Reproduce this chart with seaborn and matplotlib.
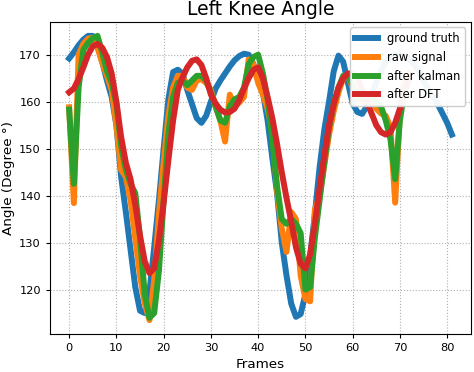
import matplotlib
matplotlib.use("Agg")
import matplotlib.pyplot as plt
import numpy as np
import pandas as pd
import seaborn as sns

# knee angle per frame
ground_truth = [
    169.2, 170.5, 172.0, 173.2, 174.0, 174.0, 172.0, 168.5, 164.5, 161.0,
    155.0, 144.0, 136.5, 128.5, 120.5, 115.5, 115.0, 119.5, 129.0, 139.0,
    150.0, 160.5, 166.3, 166.8, 166.0, 162.5, 159.5, 156.5, 155.5, 157.0,
    160.0, 162.8, 164.5, 166.0, 167.5, 168.8, 169.7, 170.2, 170.0, 168.0,
    164.5, 162.0, 156.0, 148.0, 140.5, 130.0, 123.0, 117.0, 114.2, 114.8,
    119.0, 127.0, 136.0, 146.0, 154.0, 160.0, 166.5, 169.8, 168.5, 164.0,
    159.6, 157.8, 157.4, 159.0, 161.5, 164.0, 166.5, 168.5, 169.5, 170.0,
    170.0, 169.5, 169.0, 168.0, 166.5, 164.5, 162.5, 161.0, 159.5, 157.5,
    155.5, 153.0,
]
raw_signal = [
    158.8, 138.4, 170.0, 172.3, 173.4, 173.6, 171.5, 168.3, 165.5, 162.5,
    155.0, 145.5, 144.0, 139.0, 131.0, 123.0, 117.0, 113.5, 122.0, 136.0,
    147.0, 157.0, 163.0, 165.5, 165.5, 163.0, 162.5, 164.5, 164.8, 164.0,
    162.5, 159.0, 156.0, 151.5, 161.5, 159.0, 159.8, 161.0, 169.0, 168.0,
    164.0, 161.5, 158.5, 154.0, 141.0, 133.0, 128.0, 136.5, 135.0, 123.0,
    118.0, 117.5, 137.0, 140.0, 146.5, 153.0, 158.0, 162.0, 165.0, 165.5,
    163.0, 160.5, 160.0, 161.0, 160.5, 158.5, 157.5, 157.0, 154.5, 138.5,
    158.0, 164.0, 166.0,
]
after_kalman = [
    158.3, 142.5, 163.0, 171.0, 172.5, 173.5, 174.0, 170.5, 166.5, 164.0,
    159.5, 150.5, 145.5, 142.5, 140.5, 131.0, 119.0, 114.0, 115.0, 124.0,
    139.0, 153.0, 161.0, 164.0, 164.5, 163.5, 164.5, 165.5, 165.5, 164.5,
    162.0, 159.0, 156.0, 155.5, 159.0, 160.5, 161.0, 163.0, 168.0, 169.5,
    170.0, 166.0, 160.5, 152.0, 142.0, 135.0, 134.0, 135.0, 134.0, 132.0,
    120.0, 120.5, 131.0, 139.0, 147.0, 154.5, 159.5, 163.0, 165.5, 165.5,
    163.5, 161.5, 161.0, 161.0, 161.0, 160.0, 159.0, 156.0, 152.0, 143.5,
    156.0, 162.5, 165.0,
]
after_dft = [
    162.0, 162.8, 164.8, 167.3, 170.0, 171.8, 172.3, 171.5, 169.5, 166.0,
    160.0, 152.5, 147.0, 143.5, 138.0, 131.5, 126.0, 123.5, 124.5, 130.5,
    138.5, 147.5, 156.0, 162.5, 165.2, 167.3, 168.7, 169.0, 167.8, 165.0,
    161.5, 159.6, 158.3, 157.7, 157.8, 158.5, 160.3, 162.8, 165.0, 166.8,
    167.3, 165.0, 161.0, 156.5, 151.0, 145.0, 139.5, 134.5, 129.0, 125.5,
    124.5, 127.5, 134.0, 141.5, 148.5, 155.0, 159.5, 163.0, 165.0, 166.0,
    166.0, 165.0, 162.5, 160.0, 157.5, 155.0, 153.5, 153.0, 153.5, 155.5,
    158.5, 162.0, 165.0,
]

series_names = ["ground truth", "raw signal", "after kalman", "after DFT"]
series_colors = ["#1f77b4", "#ff7f0e", "#2ca02c", "#d62728"]


def build_long_df():
    """Stacks the four series into one long table for seaborn."""
    parts = []
    for name, values in zip(series_names, [ground_truth, raw_signal, after_kalman, after_dft]):
        parts.append(pd.DataFrame({"Frames": np.arange(len(values)), "Angle": values, "series": name}))
    return pd.concat(parts, ignore_index=True)


df = build_long_df()

fig, ax = plt.subplots(figsize=(4.74, 3.72), dpi=100)
fig.subplots_adjust(left=0.1055, right=0.9937, bottom=0.1013, top=0.9417)

for name, color in zip(series_names, series_colors):
    sns.lineplot(data=df[df["series"] == name], x="Frames", y="Angle",
                 color=color, linewidth=4.3, label=name, ax=ax)

ax.grid(True, linestyle=":", color="#b0b0b0", linewidth=0.8)
ax.set_title("Left Knee Angle", fontsize=13.5, pad=5)
ax.set_xlabel("Frames", fontsize=9.7, labelpad=3)
ax.set_ylabel("Angle (Degree °)", fontsize=9.7, labelpad=3)
ax.tick_params(labelsize=8.2, length=3, width=0.8)
ax.legend(loc="upper right", fontsize=8.3, labelspacing=0.5, framealpha=0.95)

fig.savefig("out.png", dpi=100)
